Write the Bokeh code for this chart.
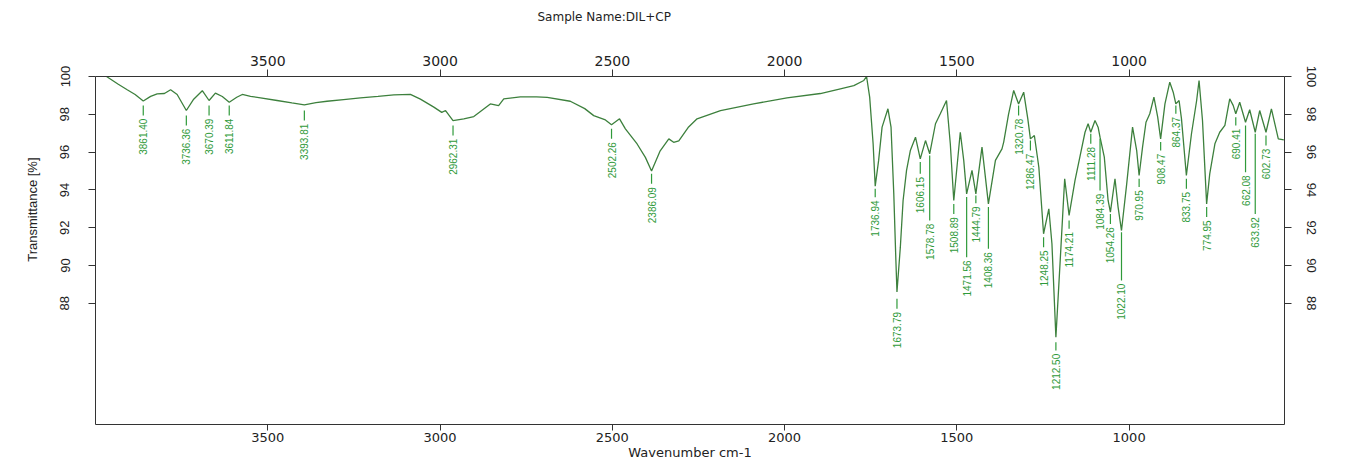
import math
from bokeh.plotting import figure
from bokeh.models import Range1d, LinearAxis, FixedTicker, Title, ColumnDataSource
from bokeh.core.properties import value
from bokeh.embed import file_html
from bokeh.resources import INLINE

# ---------------- data ----------------
wavenumber = [3968, 3935, 3908, 3885, 3861.4, 3840, 3821, 3800, 3782, 3763,
              3736.4, 3715, 3690, 3670.4, 3652, 3632, 3611.8, 3590, 3574, 3550,
              3521, 3473, 3430, 3393.8, 3360, 3328, 3280, 3231, 3180, 3134,
              3086, 3057, 3018, 2995, 2984, 2962.3, 2931, 2902, 2854, 2830,
              2815, 2767, 2720, 2689, 2622, 2580, 2554, 2520, 2502.3, 2479,
              2462, 2428, 2404, 2386.1, 2361, 2336, 2322, 2307, 2280, 2254,
              2186, 2090, 1993, 1896, 1838, 1799, 1770, 1762, 1753, 1743,
              1736.9, 1727, 1717, 1700, 1691, 1683, 1677, 1673.8, 1664, 1656,
              1646, 1635, 1620, 1606.2, 1591, 1578.8, 1562, 1548, 1530, 1519,
              1508.9, 1490, 1480, 1471.6, 1456, 1444.8, 1427, 1408.4, 1388, 1369,
              1364, 1350, 1335, 1320.8, 1306, 1294, 1286.5, 1275, 1262, 1248.3,
              1233, 1224, 1212.5, 1200, 1187, 1174.2, 1157, 1143, 1128, 1119,
              1111.3, 1099, 1090, 1084.4, 1072, 1061, 1054.3, 1041, 1032, 1022.1,
              1007, 990, 978, 971, 961, 951, 940, 928, 917, 908.5,
              896, 882, 872, 864.4, 855, 848, 833.8, 819, 804, 797,
              787, 775, 766, 751, 737, 722, 708, 698, 690.4, 679,
              662.1, 650, 633.9, 621, 602.7, 587, 567, 551]
transmittance = [100.0, 99.6, 99.3, 99.05, 98.7, 98.95, 99.08, 99.1, 99.3, 99.05,
                 98.2, 98.8, 99.25, 98.73, 99.12, 98.94, 98.64, 98.9, 99.05, 98.95,
                 98.87, 98.73, 98.6, 98.5, 98.62, 98.69, 98.78, 98.87, 98.95, 99.03,
                 99.05, 98.8, 98.38, 98.1, 98.2, 97.67, 97.76, 97.88, 98.55, 98.46,
                 98.82, 98.92, 98.92, 98.9, 98.69, 98.3, 97.93, 97.7, 97.45, 97.76,
                 97.23, 96.43, 95.72, 95.0, 96.07, 96.7, 96.52, 96.6, 97.3, 97.76,
                 98.2, 98.55, 98.87, 99.1, 99.35, 99.52, 99.79, 100.0, 98.91, 96.44,
                 94.2, 95.56, 97.32, 98.29, 97.32, 93.79, 90.3, 88.6, 90.97, 93.44,
                 95.03, 96.08, 96.79, 95.64, 96.61, 95.91, 97.5, 98.03, 98.73, 96.44,
                 93.44, 97.05, 95.56, 93.79, 95.03, 93.79, 96.26, 93.26, 95.56, 96.17,
                 96.53, 98.0, 99.26, 98.55, 99.17, 97.76, 96.7, 96.88, 95.2, 91.68,
                 93.0, 91.15, 86.2, 90.27, 94.59, 92.65, 94.5, 95.73, 97.05, 97.5,
                 97.05, 97.67, 97.32, 96.79, 95.73, 93.44, 92.82, 94.59, 93.09, 91.85,
                 94.32, 97.32, 96.08, 94.76, 96.26, 97.58, 98.03, 98.91, 97.85, 96.7,
                 98.55, 99.7, 99.17, 98.55, 98.73, 97.76, 94.76, 96.97, 98.73, 99.79,
                 97.67, 93.26, 94.85, 96.44, 97.05, 97.41, 98.82, 98.47, 98.03, 98.64,
                 97.58, 98.24, 97.05, 98.2, 97.05, 98.29, 96.7, 96.65]

peak_labels = ["3861.40", "3736.36", "3670.39", "3611.84", "3393.81", "2962.31",
               "2502.26", "2386.09", "1736.94", "1673.79", "1606.15", "1578.78",
               "1508.89", "1471.56", "1444.79", "1408.36", "1320.78", "1286.47",
               "1248.25", "1212.50", "1174.21", "1111.28", "1084.39", "1054.26",
               "1022.10", "970.95", "908.47", "864.37", "833.75", "774.95",
               "690.41", "662.08", "633.92", "602.73"]

x_ticks = [1000, 1500, 2000, 2500, 3000, 3500]
y_ticks = [88, 90, 92, 94, 96, 98, 100]

# ---------------- layout of peak annotations (leader lines) ----------------
leader_top = [98.47, 97.94, 98.47, 98.47, 98.2, 97.41, 97.23, 94.85, 94.06, 88.24,
              95.47, 95.82, 93.26, 93.62, 93.7, 93.09, 98.47, 96.61, 91.5, 85.94,
              92.38, 96.97, 96.7, 92.73, 91.76, 94.59, 96.53, 98.47, 94.59, 93.09,
              97.85, 97.41, 96.97, 96.88]
leader_bottom = [97.94, 97.41, 97.94, 97.94, 97.67, 96.88, 96.7, 94.32, 93.61, 87.71,
                 94.85, 92.38, 92.73, 90.44, 93.3, 90.88, 97.94, 96.08, 90.97, 85.5,
                 91.94, 96.44, 93.97, 92.2, 89.21, 94.15, 96.08, 98.03, 94.06, 92.56,
                 97.41, 94.94, 92.73, 96.35]

peak_x = [float(s) for s in peak_labels]
text_y = [b - 0.17 for b in leader_bottom]

AX = "#333333"
CURVE = "#3d803d"
LAB = "#2f9a3a"

FRAME_H = 348
Y_TOP = 100.0
Y_BOTTOM = Y_TOP - FRAME_H / 18.9

p = figure(frame_width=1189, frame_height=FRAME_H,
           min_border_left=95, min_border_right=51, min_border_top=76, min_border_bottom=38,
           x_range=Range1d(4000, 549), y_range=Range1d(Y_BOTTOM, Y_TOP),
           x_axis_location=None, y_axis_location=None,
           output_backend="svg", toolbar_location=None)
p.outline_line_color = None
p.grid.visible = False
p.background_fill_color = "white"
p.border_fill_color = "white"

def style_axis(ax, size):
    ax.major_tick_in = 0
    ax.major_tick_out = 7
    ax.minor_tick_in = 0
    ax.minor_tick_out = 0
    ax.axis_line_color = AX
    ax.major_tick_line_color = AX
    ax.major_label_text_color = "#222222"
    ax.major_label_text_font_size = size

xb = LinearAxis(ticker=FixedTicker(ticks=x_ticks))
style_axis(xb, "13px")
xb.major_tick_out = 6
xb.major_label_text_font = "DejaVu Sans"
xb.major_label_standoff = 2
xb.axis_label = "Wavenumber cm-1"
xb.axis_label_standoff = 0
xb.axis_label_text_font = "DejaVu Sans"
xb.axis_label_text_font_size = "13px"
xb.axis_label_text_font_style = "normal"
xb.axis_label_text_color = "#222222"
p.add_layout(xb, "below")

xt = LinearAxis(ticker=FixedTicker(ticks=x_ticks))
style_axis(xt, "14px")
xt.major_label_text_font = "DejaVu Sans"
xt.major_label_standoff = 4
p.add_layout(xt, "above")

yl = LinearAxis(ticker=FixedTicker(ticks=y_ticks))
style_axis(yl, "13px")
yl.major_label_text_font = "Liberation Sans"
yl.major_label_orientation = "parallel"
yl.major_label_standoff = 19
p.add_layout(yl, "left")

yr = LinearAxis(ticker=FixedTicker(ticks=y_ticks))
style_axis(yr, "13px")
yr.major_label_text_font = "Liberation Sans"
yr.major_label_orientation = "parallel"
yr.major_label_standoff = 15
p.add_layout(yr, "right")

src = ColumnDataSource(dict(x=wavenumber, y=transmittance))
p.line("x", "y", source=src, line_color=CURVE, line_width=1.3)

p.segment(x0=peak_x, y0=leader_top, x1=peak_x, y1=leader_bottom,
          line_color=LAB, line_width=1.2)
p.text(x=peak_x, y=text_y, text=peak_labels, angle=math.pi / 2,
       text_align="right", text_baseline="middle", text_color=LAB,
       text_font=value("'Liberation Sans Narrow', 'Liberation Sans', sans-serif"),
       text_font_size="10px")

# spacer then title above the top axis
p.add_layout(Title(text="\u00a0", text_font_size="20px", standoff=4), "above")
p.add_layout(Title(text="Sample Name:DIL+CP", align="left", offset=442,
                   text_font="DejaVu Sans", text_font_size="12px",
                   text_font_style="normal", text_color="#222222", standoff=2), "above")

# y axis title, placed above centre like the reference
p.add_layout(Title(text="Transmittance [%]", align="right", offset=81,
                   text_font="Liberation Sans", text_font_size="13px",
                   text_font_style="normal", text_color="#222222", standoff=36), "left")

open("out.html", "w").write(file_html(p, INLINE))
